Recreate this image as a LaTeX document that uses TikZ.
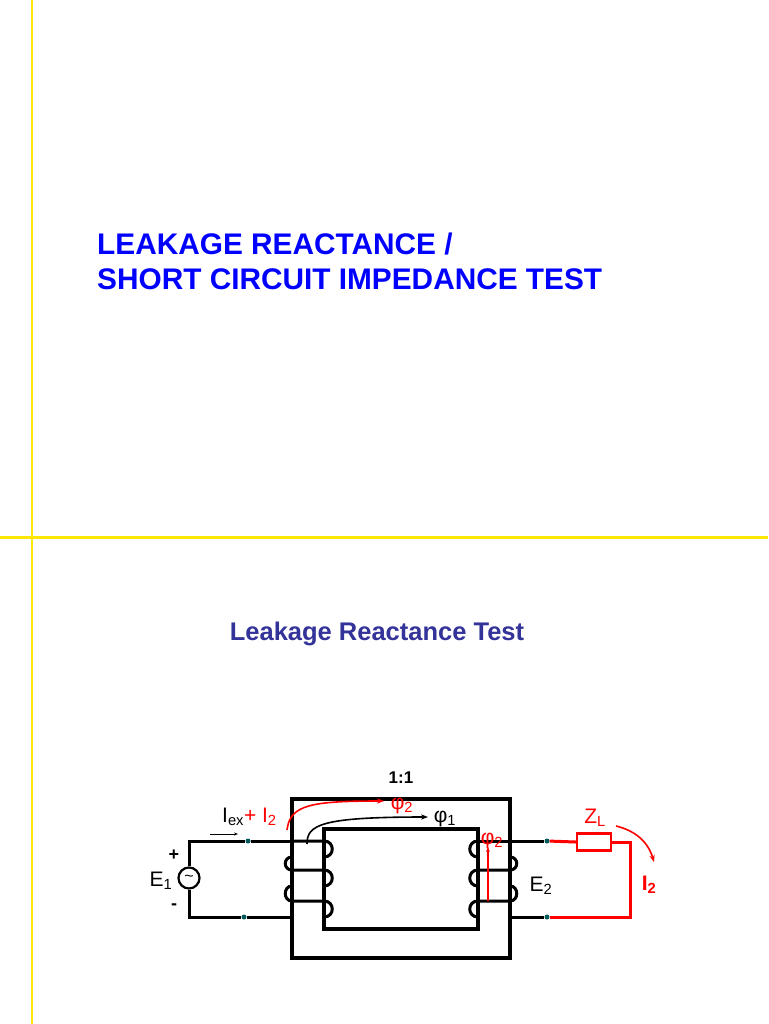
\documentclass[tikz,border=0pt]{standalone}
\usepackage{fontspec}
\setmainfont{Liberation Sans}
\usetikzlibrary{arrows.meta}
\begin{document}
\begin{tikzpicture}[x=1pt,y=-1pt,
  wire/.style={line width=3pt,black},
  rw/.style={line width=3pt,red},
  core/.style={line width=3.4pt,black},
  dot/.style={circle,fill=teal!70!black,inner sep=0pt,minimum size=5pt},
  lbl/.style={font=\fontsize{21}{24}\selectfont,inner sep=0pt}]
\useasboundingbox (0,0) rectangle (768,1024);
\fill[white] (0,0) rectangle (768,1024);
% yellow guide lines
\draw[yellow!90!orange,line width=1.5pt] (32,0) -- (32,1024);
\draw[yellow!90!orange,line width=3pt] (0,537) -- (768,537);
% titles
\node[anchor=west,text=blue,font=\bfseries\fontsize{29.8}{35}\selectfont,align=left,inner sep=0pt] (title) at (97,261) {LEAKAGE REACTANCE /\\SHORT CIRCUIT IMPEDANCE TEST};
\node[text={rgb,255:red,51;green,51;blue,153},font=\bfseries\fontsize{25.5}{28}\selectfont,inner sep=0pt] (sub) at (377,634) {Leakage Reactance Test};
% core
\draw[core] (292,799) rectangle (510,958);
\draw[core] (324,829) rectangle (478,929);
\node[font=\bfseries\fontsize{17}{20}\selectfont,inner sep=0pt] (ratio) at (401,778) {1:1};
% primary coil
\draw[wire] (292,841) -- (324,841) .. controls (335,841) and (335,857) .. (324,857)
  (292,857) .. controls (283,857) and (283,870) .. (292,870) -- (324,870) .. controls (335,870) and (335,886) .. (324,886)
  (292,886) .. controls (283,886) and (283,901) .. (292,901) -- (324,901) .. controls (335,901) and (335,917) .. (324,917);
% secondary coil
\draw[wire] (478,841) .. controls (467,841) and (467,857) .. (478,857)
  (510,857) .. controls (519,857) and (519,870) .. (510,870) -- (478,870) .. controls (467,870) and (467,886) .. (478,886)
  (510,886) .. controls (519,886) and (519,901) .. (510,901) -- (478,901) .. controls (467,901) and (467,917) .. (478,917);
% source
\node[draw,circle,line width=2.2pt,minimum size=21pt,inner sep=0pt,font=\fontsize{16}{16}\selectfont] (src) at (189,878) {\~{}};
\coordinate (ptl) at (292,841); \coordinate (pbl) at (292,917);
\node[dot] (d1) at (248,841) {};
\node[dot] (d2) at (244,917) {};
\draw[wire] (src.north) -- (189,841) -- (d1) -- (ptl);
\draw[wire] (src.south) -- (189,917) -- (d2) -- (pbl);
\node[font=\bfseries\fontsize{18}{20}\selectfont] (plus) at (174,855) {+};
\node[font=\bfseries\fontsize{18}{20}\selectfont] (minus) at (174,907) {-};
\node[lbl] (E1) at (161,881) {E\textsubscript{1}};
\node[lbl,anchor=west] (Iex) at (222,817) {I\textsubscript{ex}\textcolor{red}{+ I\textsubscript{2}}};
\coordinate (ia) at (210,834); \coordinate (ib) at (238,834);
\draw[-{Stealth[length=4pt]},line width=0.8pt] (ia) -- (ib);
% secondary wiring
\node[dot] (d3) at (547,841) {};
\node[dot] (d4) at (547,917) {};
\coordinate (str) at (478,841); \coordinate (sbr) at (510,917);
\draw[wire] (str) -- (d3);
\draw[wire] (sbr) -- (d4);
\node[draw=red,line width=2.4pt,minimum width=34pt,minimum height=17pt,inner sep=0pt] (ZL) at (594,842) {};
\draw[rw] (d3) -- (ZL.west);
\draw[rw] (ZL.east) -- (630,842) -- (630,917) -- (d4);
\node[lbl,text=red] (zl) at (595,818) {Z\textsubscript{L}};
\node[lbl,text=red,font=\bfseries\fontsize{21}{24}\selectfont] (I2) at (649,885) {I\textsubscript{2}};
\draw[red,line width=1.6pt,-{Stealth[length=7pt]}] (616,826) to[bend left=30] (654,862);
\node[lbl] (E2) at (541,886) {E\textsubscript{2}};
% fluxes
\draw[red,line width=1.6pt,-{Stealth[length=7pt]}] (287,830) .. controls (290,805) and (310,801) .. (384,801);
\node[lbl,text=red] (phi2a) at (402,806) {φ\textsubscript{2}};
\draw[black,line width=1.6pt,-{Stealth[length=7pt]}] (307,844) .. controls (307,825) and (320,817) .. (428,817);
\node[lbl] (phi1) at (445,819) {φ\textsubscript{1}};
\draw[red,line width=1.6pt,-{Stealth[length=5pt]}] (488,901) -- (488,847);
\node[lbl,text=red] (phi2b) at (492,841) {φ\textsubscript{2}};
\end{tikzpicture}
\end{document}
